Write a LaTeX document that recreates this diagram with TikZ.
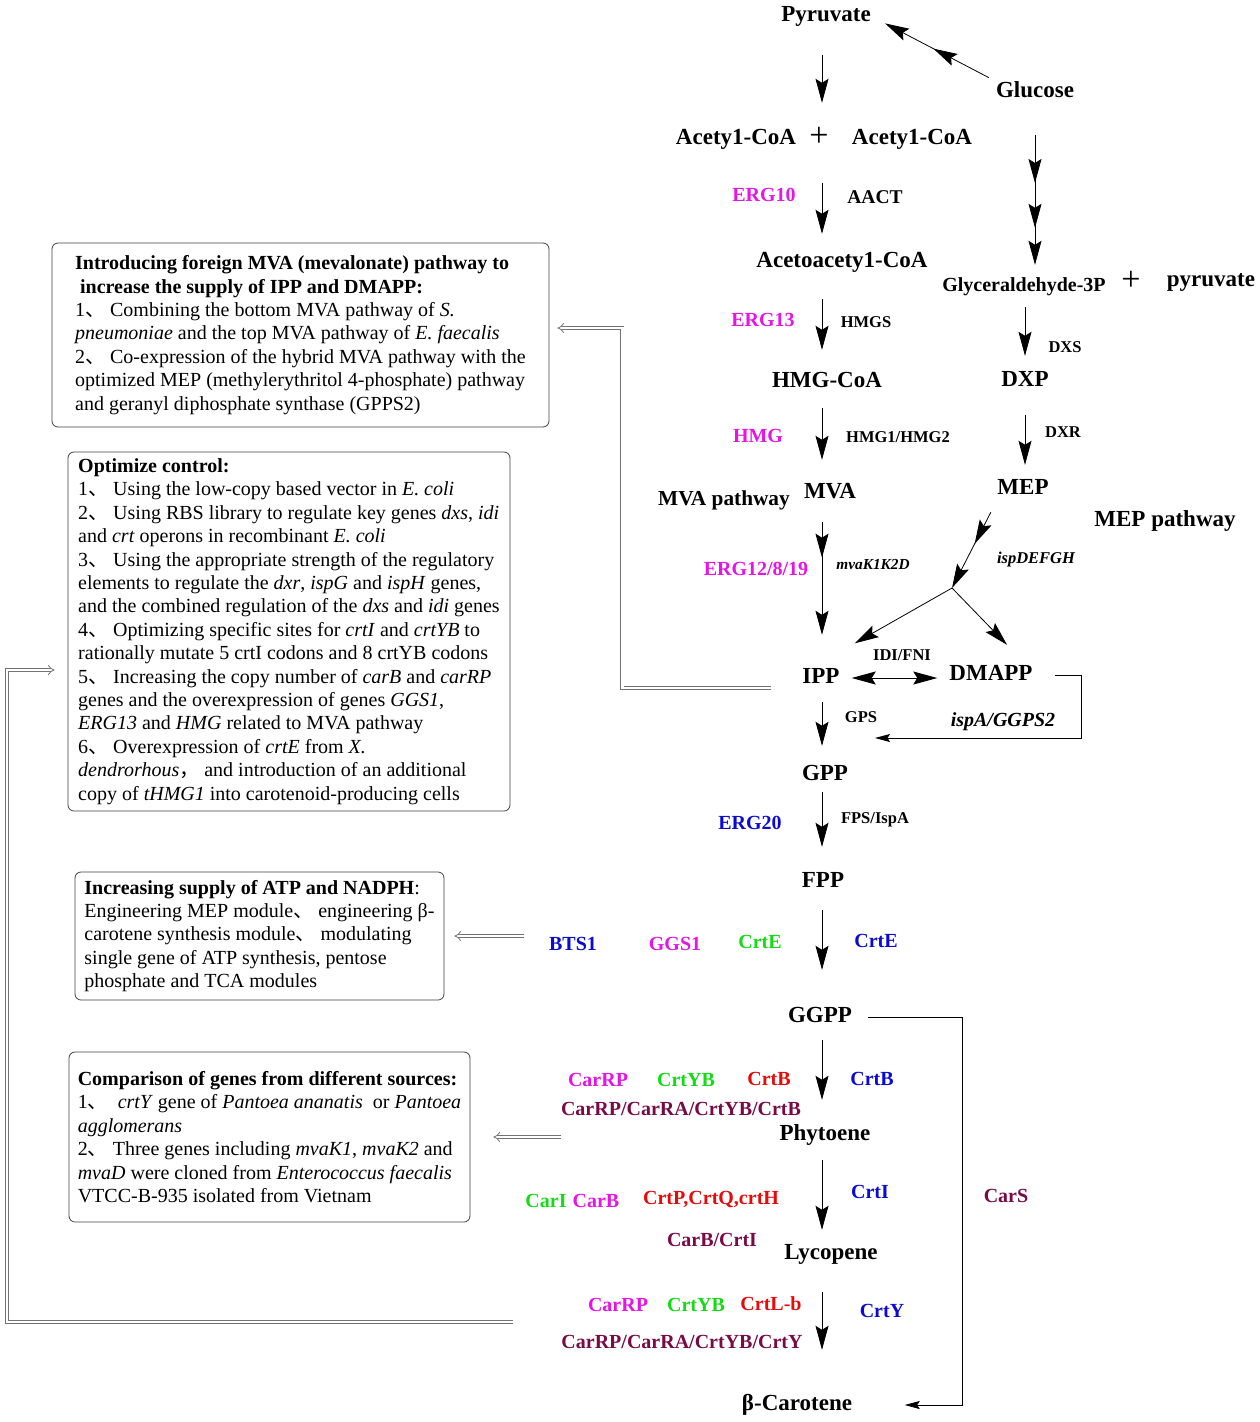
\documentclass[tikz,border=0pt]{standalone}
\usepackage{fontspec}
\setmainfont{Liberation Serif}
\newfontfamily\cjkfont{Noto Sans CJK SC}
\usetikzlibrary{arrows.meta,decorations.markings}
\newcommand{\fsz}[1]{\fontsize{#1}{#1}\selectfont}
\newcommand{\dunhao}{{\cjkfont 、}}
\newcommand{\douhao}{{\cjkfont ，}}
\definecolor{genemag}{RGB}{230,20,230}
\definecolor{genegreen}{RGB}{20,220,20}
\definecolor{genered}{RGB}{230,10,10}
\definecolor{geneblue}{RGB}{10,10,210}
\definecolor{genemaroon}{RGB}{120,10,70}
\begin{document}
\begin{tikzpicture}[x=1pt, y=1pt,
    pathtip/.tip={Stealth[length=24pt, width=13pt, inset=4pt]},
    smalltip/.tip={Stealth[length=15pt, width=8pt, inset=2.5pt]},
    chem/.style={font=\bfseries\fsz{23}, inner sep=0pt, text height=16pt, text depth=5pt},
    gene/.style={font=\bfseries\fsz{20}, inner sep=0pt},
    enz/.style={font=\bfseries\fsz{16.5}, inner sep=0pt},
    box/.style={draw=black!75, line width=0.8pt, rounded corners=6pt, align=left,
        inner sep=0pt, font=\fontsize{20}{23.4}\selectfont},
    arr/.style={-pathtip, line width=0.8pt},
    ret/.style={-smalltip, line width=0.8pt},
    midhead/.style={postaction={decorate, decoration={markings,
        mark=at position #1 with {\arrow{pathtip}}}}},
    dbl/.style={draw=black!55, double=white, double distance=2.6pt, line width=0.8pt, -{Implies}}]
    \useasboundingbox (0,0) rectangle (1260,-1422);

    % pathway compounds
    \node[chem] (pyr) at (826,-16) {Pyruvate};
    \node[chem] (glu) at (1035,-92) {Glucose};
    \node[chem] (acl) at (736,-139) {Acety1-CoA};
    \node[chem, font=\fsz{34}] (plus1) at (819,-141) {+};
    \node[chem] (acr) at (912,-139) {Acety1-CoA};
    \node[chem] (aca) at (842,-262) {Acetoacety1-CoA};
    \node[chem, font=\bfseries\fsz{20}] (gly) at (1024,-286) {Glyceraldehyde-3P};
    \node[chem, font=\fsz{34}] (plus2) at (1131,-285) {+};
    \node[chem] (pyr2) at (1211,-281) {pyruvate};
    \node[chem] (hmgcoa) at (827,-382) {HMG-CoA};
    \node[chem] (dxp) at (1025,-381) {DXP};
    \node[chem] (mva) at (830,-493) {MVA};
    \node[chem] (mep) at (1023,-489) {MEP};
    \node[chem, font=\bfseries\fsz{21.3}] (mvapath) at (724,-500) {MVA pathway};
    \node[chem] (meppath) at (1165,-521) {MEP pathway};
    \node[chem] (ipp) at (821,-678) {IPP};
    \node[chem] (dmapp) at (991,-675) {DMAPP};
    \node[chem] (gpp) at (825,-775) {GPP};
    \node[chem] (fpp) at (823,-882) {FPP};
    \node[chem] (ggpp) at (820,-1017) {GGPP};
    \node[chem] (phy) at (825,-1135) {Phytoene};
    \node[chem] (lyc) at (831,-1254) {Lycopene};
    \node[chem] (bcar) at (797,-1405) {β-Carotene};

    % enzymes and genes
    \node[gene, genemag] (erg10) at (764,-195) {ERG10};
    \node[enz, font=\bfseries\fsz{19.5}] (aact) at (875,-197) {AACT};
    \node[gene, genemag] (erg13) at (763,-320) {ERG13};
    \node[enz] (hmgs) at (866,-322) {HMGS};
    \node[enz] (dxs) at (1065,-347) {DXS};
    \node[gene, genemag] (hmg) at (758,-436) {HMG};
    \node[enz] (hmg12) at (898,-437) {HMG1/HMG2};
    \node[enz] (dxr) at (1063,-432) {DXR};
    \node[gene, genemag] (erg12) at (756,-569) {ERG12/8/19};
    \node[enz, font=\bfseries\itshape\fsz{15.3}] (mvak) at (873,-565) {mvaK1K2D};
    \node[enz, font=\bfseries\itshape\fsz{16.5}] (ispdef) at (1036,-560) {ispDEFGH};
    \node[enz] (idi) at (902,-655) {IDI/FNI};
    \node[enz] (gps) at (861,-717) {GPS};
    \node[enz, font=\bfseries\itshape\fsz{20}] (ispa) at (1003,-722) {ispA/GGPS2};
    \node[gene, geneblue] (erg20) at (750,-823) {ERG20};
    \node[enz] (fps) at (875,-820) {FPS/IspA};
    \node[gene, geneblue] (bts1) at (573,-944) {BTS1};
    \node[gene, genemag] (ggs1) at (675,-944) {GGS1};
    \node[gene, genegreen] (crte1) at (760,-942) {CrtE};
    \node[gene, geneblue] (crte2) at (876,-941) {CrtE};
    \node[gene, genemag] (carrp1) at (598,-1080) {CarRP};
    \node[gene, genegreen] (crtyb1) at (686,-1080) {CrtYB};
    \node[gene, genered] (crtb1) at (769,-1079) {CrtB};
    \node[gene, geneblue] (crtb2) at (872,-1079) {CrtB};
    \node[gene, genemaroon] (mar1) at (681,-1109) {CarRP/CarRA/CrtYB/CrtB};
    \node[gene, genegreen] (cari) at (546,-1201) {CarI};
    \node[gene, genemag] (carb) at (596,-1201) {CarB};
    \node[gene, genered] (crtp) at (711,-1199) {CrtP,CrtQ,crtH};
    \node[gene, geneblue] (crti) at (870,-1192) {CrtI};
    \node[gene, genemaroon] (mar2) at (712,-1240) {CarB/CrtI};
    \node[gene, genemaroon] (cars) at (1006,-1196) {CarS};
    \node[gene, genemag] (carrp2) at (618,-1305) {CarRP};
    \node[gene, genegreen] (crtyb2) at (696,-1305) {CrtYB};
    \node[gene, genered] (crtl) at (771,-1304) {CrtL-b};
    \node[gene, geneblue] (crty) at (882,-1311) {CrtY};
    \node[gene, genemaroon] (mar3) at (682,-1342) {CarRP/CarRA/CrtYB/CrtY};

    % strategy boxes
    \node[box, minimum width=497pt, minimum height=184pt] (box1) at (300.5,-335) {%
        \textbf{Introducing foreign MVA (mevalonate) pathway to}\\
        \textbf{\ increase the supply of IPP and DMAPP:}\\
        1\dunhao{} Combining the bottom MVA pathway of \textit{S.}\\
        \textit{pneumoniae} and the top MVA pathway of \textit{E. faecalis}\\
        2\dunhao{} Co-expression of the hybrid MVA pathway with the\\
        optimized MEP (methylerythritol 4-phosphate) pathway\\
        and geranyl diphosphate synthase (GPPS2)};
    \node[box, minimum width=442pt, minimum height=359pt] (box2) at (289,-631.5) {%
        \textbf{Optimize control:}\\
        1\dunhao{} Using the low-copy based vector in \textit{E. coli}\\
        2\dunhao{} Using RBS library to regulate key genes \textit{dxs}, \textit{idi}\\
        and \textit{crt} operons in recombinant \textit{E. coli}\\
        3\dunhao{} Using the appropriate strength of the regulatory\\
        elements to regulate the \textit{dxr}, \textit{ispG} and \textit{ispH} genes,\\
        and the combined regulation of the \textit{dxs} and \textit{idi} genes\\
        4\dunhao{} Optimizing specific sites for \textit{crtI} and \textit{crtYB} to\\
        rationally mutate 5 crtI codons and 8 crtYB codons\\
        5\dunhao{} Increasing the copy number of \textit{carB} and \textit{carRP}\\
        genes and the overexpression of genes \textit{GGS1},\\
        \textit{ERG13} and \textit{HMG} related to MVA pathway\\
        6\dunhao{} Overexpression of \textit{crtE} from \textit{X.}\\
        \textit{dendrorhous}\douhao{} and introduction of an additional\\
        copy of \textit{tHMG1} into carotenoid-producing cells};
    \node[box, minimum width=369pt, minimum height=128pt] (box3) at (259.5,-936) {%
        \textbf{Increasing supply of ATP and NADPH}:\\
        Engineering MEP module\dunhao{} engineering β-\\
        carotene synthesis module\dunhao{} modulating\\
        single gene of ATP synthesis, pentose\\
        phosphate and TCA modules};
    \node[box, minimum width=401pt, minimum height=170pt] (box4) at (269.5,-1137) {%
        \textbf{Comparison of genes from different sources:}\\
        1\dunhao{} \ \textit{crtY} gene of \textit{Pantoea ananatis}\ \ or \textit{Pantoea}\\
        \textit{agglomerans}\\
        2\dunhao{} Three genes including \textit{mvaK1}, \textit{mvaK2} and\\
        \textit{mvaD} were cloned from \textit{Enterococcus faecalis}\\
        VTCC-B-935 isolated from Vietnam};

    % main pathway arrows
    \coordinate (axis) at (822,0);
    \coordinate (branch) at (952,-588);
    \coordinate (ispend) at (875,-738);
    \coordinate (optstart) at (513,-1322);
    \draw[arr, midhead=.5, shorten <=8pt, shorten >=16pt] (glu.north west) -- (pyr.east);
    \draw[arr, shorten <=28.5pt, shorten >=27.5pt] (pyr.south -| axis) -- (plus1.north -| axis);
    \draw[arr, shorten <=31.5pt, shorten >=17.5pt] (plus1.south -| axis) -- (aca.north -| axis);
    \draw[arr, shorten <=26.5pt, shorten >=21.5pt] (aca.south -| axis) -- (hmgcoa.north -| axis);
    \draw[arr, shorten <=15.5pt, shorten >=22.5pt] (hmgcoa.south -| axis) -- (mva.north -| axis);
    \draw[arr, midhead=.33, shorten <=18.5pt, shorten >=32.5pt] (mva.south -| axis) -- (ipp.north -| axis);
    \draw[arr, shorten <=13.5pt, shorten >=18.5pt] (ipp.south -| axis) -- (gpp.north -| axis);
    \draw[arr, shorten <=6.5pt, shorten >=24.5pt] (gpp.south -| axis) -- (fpp.north -| axis);
    \draw[arr, shorten <=17.5pt, shorten >=36.5pt] (fpp.south -| axis) -- (ggpp.north -| axis);
    \draw[arr, shorten <=12.5pt, shorten >=24.5pt] (ggpp.south -| axis) -- (phy.north -| axis);
    \draw[arr, shorten <=14.5pt, shorten >=13.5pt] (phy.south -| axis) -- (lyc.north -| axis);
    \draw[arr, shorten <=27.5pt, shorten >=44.5pt] (lyc.south -| axis) -- (bcar.north -| axis);
    \draw[arr, midhead=.465, midhead=.725, shorten <=32.5pt, shorten >=10.5pt]
        (glu.south) -- (gly.north -| glu);
    \draw[arr, shorten <=10.5pt, shorten >=14.5pt] (gly.south -| dxp) -- (dxp.north);
    \draw[arr, shorten <=23.5pt, shorten >=13.5pt] (dxp.south) -- (mep.north -| dxp);
    \draw[arr, midhead=.5, shorten <=14pt] (mep.south west) -- (branch);
    \draw[arr] (branch) -- ([shift={(15pt,24pt)}]ipp.north east);
    \draw[arr] (branch) -- ([shift={(16pt,19.5pt)}]dmapp.north);
    \draw[arr, {pathtip}-{pathtip}, shorten <=12pt, shorten >=12pt] (ipp.east) -- (ipp.east -| dmapp.west);
    \draw[ret] ([xshift=22pt]dmapp.east) -- ++(27,0) |- (ispend);
    \draw[ret, shorten >=52.5pt] ([xshift=16pt]ggpp.east) -- ++(94,0) |- (bcar.east);

    % links to the boxes
    \draw[dbl, shorten <=31pt, shorten >=8pt] ([yshift=-10pt]ipp.west) -- ++(-180,0) |- ([yshift=7pt]box1.east);
    \draw[dbl, shorten >=13pt] (optstart) -- ++(-506,0) |- ([yshift=-38.5pt]box2.west);
    \draw[dbl, shorten <=25pt, shorten >=10pt] (box3.east -| bts1.west) -- (box3.east);
    \draw[dbl, shorten >=23pt] (box4.east -| mar1.west) -- (box4.east);
\end{tikzpicture}
\end{document}
